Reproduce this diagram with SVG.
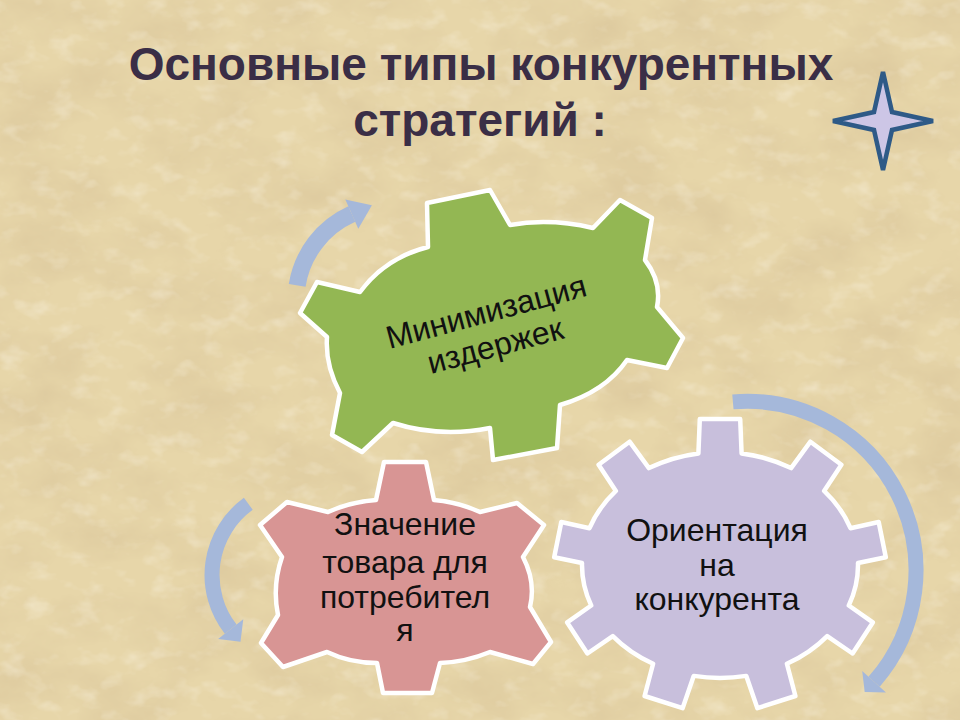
<svg xmlns="http://www.w3.org/2000/svg" width="960" height="720" viewBox="0 0 960 720">
<defs>
<filter id="tex" x="0" y="0" width="100%" height="100%">
<feTurbulence type="fractalNoise" baseFrequency="0.012 0.018" numOctaves="5" seed="7"/>
<feColorMatrix type="matrix" values="0 0 0 0 0.66  0 0 0 0 0.52  0 0 0 0 0.30  1.0 0 0 0 -0.38"/>
</filter>
<filter id="tex2" x="0" y="0" width="100%" height="100%">
<feTurbulence type="fractalNoise" baseFrequency="0.04 0.06" numOctaves="3" seed="21"/>
<feColorMatrix type="matrix" values="0 0 0 0 1  0 0 0 0 0.97  0 0 0 0 0.9  0.8 0 0 0 -0.42"/>
</filter>
<style>
.gear{stroke:#ffffff;stroke-width:4.5;stroke-linejoin:round}
.lbl{font-family:"Liberation Sans",Arial,sans-serif;font-size:32px;fill:#111111;text-anchor:middle}
.arr{fill:none;stroke:#a5b8da;stroke-linecap:butt}
.head{fill:#a5b8da}
</style>
</defs>
<rect width="960" height="720" fill="#e7d6a9"/>
<rect width="960" height="720" filter="url(#tex)"/>
<rect width="960" height="720" filter="url(#tex2)"/>

<g id="title" font-family="'Liberation Sans',Arial,sans-serif" font-weight="bold" font-size="46" fill="#3a2e46" text-anchor="middle">
<text x="481" y="80">Основные типы конкурентных</text>
<text x="480" y="136">стратегий :</text>
</g>

<g id="star">
<path d="M883,72 L892,112 L933,121 L892,130 L883,170 L874,130 L833,121 L874,112 Z" fill="#cdc6e6" stroke="#2e5a87" stroke-width="4.5" stroke-linejoin="miter"/>
</g>

<g id="connectors">
<path class="arr" stroke-width="17" d="M297.2,285.3 A94,94 0 0 1 351.8,214.1"/>
<polygon class="head" points="345.3,199.5 371.9,205.2 358.3,228.7"/>
<path class="arr" stroke-width="15" d="M248.3,503.8 A88,88 0 0 0 230.7,629.2"/>
<polygon class="head" points="218.1,639.1 240.5,641.8 243.3,619.3"/>
<path class="arr" stroke-width="15" d="M732.9,401.9 A169,169 0 0 1 874.1,681.7"/>
<polygon class="head" points="886.0,692.4 864.7,692.1 862.2,671.0"/>
</g>

<g id="gear-lavender">
<path class="gear" fill="#c8bfdc" d="M698.4,453.4 L699.8,419.1 L740.2,419.1 L741.6,453.4 A138,113 0 0 1 791.1,468.1 L810.4,441.7 L841.4,464.7 L824.1,490.9 A138,113 0 0 1 850.5,528.2 L878.7,522 L885.8,557.3 L858,563 A138,113 0 0 1 848.8,605.5 L872.8,622.4 L852.6,653.5 L827.2,636.1 A138,113 0 0 1 786.9,663.8 L795.4,696 L757.4,708.2 L746.3,675.9 A138,113 0 0 1 693.7,675.9 L682.6,708.2 L644.6,696 L653.1,663.8 A138,113 0 0 1 612.8,636.1 L587.4,653.5 L567.2,622.4 L591.2,605.5 A138,113 0 0 1 582,563 L554.2,557.3 L561.3,522 L589.5,528.2 A138,113 0 0 1 615.9,490.9 L598.6,464.7 L629.6,441.7 L648.9,468.1 A138,113 0 0 1 698.4,453.4 Z"/>
<text class="lbl" x="717" y="541">Ориентация</text>
<text class="lbl" x="717" y="576">на</text>
<text class="lbl" x="717" y="610">конкурента</text>
</g>

<g id="gear-red">
<path class="gear" fill="#d89594" d="M384,462 L426,462 L434,500 Q458,502 480,512 L517,503 L544,525 L523,557 Q536,582 530,607 L551,642 L533,664 L490,652 Q466,662 440,663 L432,693 L383,693 L377,663 Q350,663 327,652 L283,667 L261,643 L278,615 Q272,586 282,557 L260,525 L287,502 L328,512 Q350,502 376,500 Z"/>
<text class="lbl" x="405" y="535">Значение</text>
<text class="lbl" x="405" y="573">товара для</text>
<text class="lbl" x="405" y="608">потребител</text>
<text class="lbl" x="405" y="641">я</text>
</g>

<g id="gear-green">
<path class="gear" fill="#93b753" d="M427,203 L490,190 L510,225 Q550,218 593,228 L620,200 L652,218 L645,260 Q662,282 657,307 L683,338 L667,368 L627,360 Q605,392 560,405 L557,448 L493,460 L490,428 Q440,438 393,423 L362,452 L332,435 L340,393 Q325,365 327,337 L300,313 L317,282 L360,292 Q385,258 428,247 Z"/>
<g transform="translate(491,330) rotate(-15)">
<text class="lbl" x="0" y="-8">Минимизация</text>
<text class="lbl" x="0" y="27">издержек</text>
</g>
</g>
</svg>
